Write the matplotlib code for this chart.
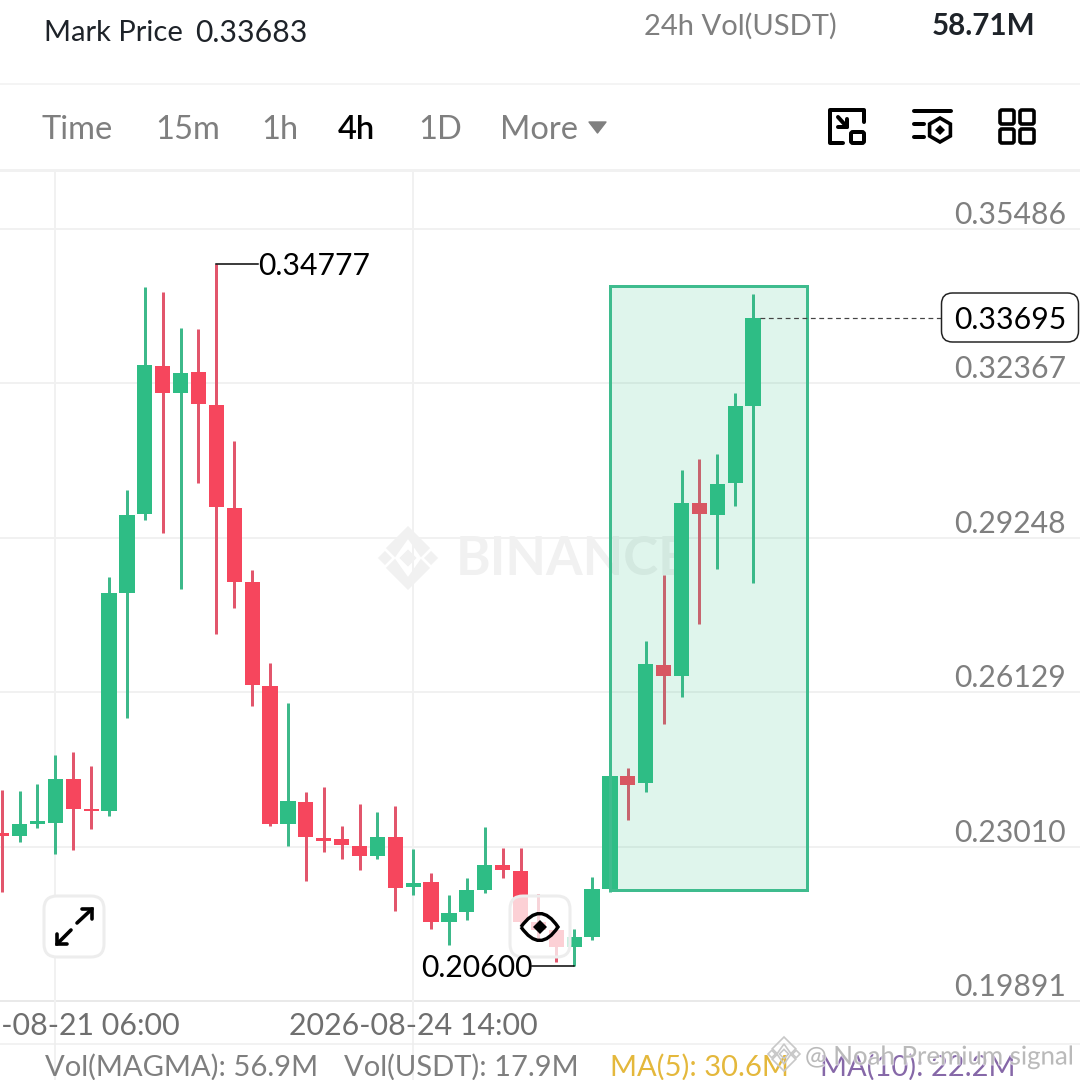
import matplotlib
matplotlib.use("Agg")
import matplotlib.pyplot as plt
import matplotlib.patheffects as pe
from matplotlib.patches import FancyBboxPatch, Rectangle, Polygon, RegularPolygon, PathPatch
from matplotlib.path import Path

plt.rcParams["font.family"] = ["Lato", "DejaVu Sans"]

# candle values (first candle is cut by the left edge)
opens = [0.23275, 0.23230, 0.23472, 0.23493, 0.24381, 0.23775, 0.23729, 0.28139, 0.29728, 0.32718,
         0.32167, 0.32597, 0.31930, 0.29850, 0.28355, 0.26254, 0.23466, 0.23911, 0.23178, 0.23163,
         0.23028, 0.22820, 0.23198, 0.22188, 0.22289, 0.21493, 0.21689, 0.22139, 0.22632, 0.22517,
         0.21487, 0.21325, 0.20988, 0.21190, 0.22153, 0.24436, 0.24295, 0.26678, 0.26462, 0.29951,
         0.29708, 0.30361, 0.31916]
closes = [0.23224, 0.23466, 0.23527, 0.24381, 0.23775, 0.23729, 0.28133, 0.29708, 0.32738, 0.32173,
          0.32583, 0.31950, 0.29870, 0.28361, 0.26274, 0.23460, 0.23925, 0.23198, 0.23129, 0.23036,
          0.22814, 0.23198, 0.22180, 0.22275, 0.21493, 0.21663, 0.22133, 0.22632, 0.22531, 0.21481,
          0.21325, 0.20988, 0.21178, 0.22147, 0.24436, 0.24254, 0.26698, 0.26462, 0.29951, 0.29722,
          0.30340, 0.31910, 0.33695]
highs = [0.24153, 0.24133, 0.24274, 0.24860, 0.24921, 0.24638, 0.28462, 0.30213, 0.34314, 0.34213,
         0.33486, 0.33465, 0.34777, 0.31203, 0.28597, 0.26719, 0.25911, 0.24107, 0.24220, 0.23432,
         0.23864, 0.23715, 0.23830, 0.22955, 0.22483, 0.22032, 0.22370, 0.23406, 0.22988, 0.22976,
         0.22052, 0.21426, 0.21351, 0.22396, 0.24436, 0.24598, 0.27163, 0.28502, 0.30617, 0.30839,
         0.30946, 0.32173, 0.34172]
lows = [0.22093, 0.23109, 0.23386, 0.22866, 0.22941, 0.23371, 0.23634, 0.25608, 0.29607, 0.29345,
        0.28213, 0.30361, 0.27310, 0.27836, 0.25850, 0.23426, 0.23022, 0.22321, 0.22907, 0.22765,
        0.22543, 0.22765, 0.21715, 0.22038, 0.21351, 0.21028, 0.21521, 0.22079, 0.22382, 0.21426,
        0.21123, 0.20679, 0.20600, 0.21123, 0.22099, 0.23547, 0.24113, 0.25486, 0.26032, 0.27506,
        0.28623, 0.29896, 0.28341]

price_ticks = [0.35486, 0.32367, 0.29248, 0.26129, 0.23010, 0.19891]
date_ticks = [3, 23]
date_labels = ["2026-08-21 06:00", "2026-08-24 14:00"]

high_index = 12
low_index = 32
high_value = 0.34777
low_value = 0.20600
last_value = 0.33695
box_start = 34
box_end = 45
box_top = 0.34334
box_bottom = 0.22133

GREEN = "#2EBD85"
RED = "#F6465D"
GREEN_WICK = "#3DB98A"
RED_WICK = "#E2566C"
GRID = "#F1F1F1"
GREY = "#7F7F7F"
PX = 72 / 100  # one pixel in points


def binance_logo(axes, cx, cy, s, **style):
    # logo drawn around its centre, s is half of its height
    t = 0.41 * s
    top = [[0, -s], [0.69 * s, -0.31 * s], [0.69 * s - t * 0.7, -0.31 * s + t * 0.7], [0, -s + t],
           [-0.69 * s + t * 0.7, -0.31 * s + t * 0.7], [-0.69 * s, -0.31 * s]]
    for flip in (1, -1):
        axes.add_patch(Polygon([[cx + x, cy + flip * y] for x, y in top], closed=True, **style))
    for dx, r in [(0, 0.27 * s), (-0.72 * s, 0.22 * s), (0.72 * s, 0.22 * s)]:
        axes.add_patch(Polygon([[cx + dx, cy - r], [cx + dx + r, cy], [cx + dx, cy + r], [cx + dx - r, cy]],
                               closed=True, **style))


fig = plt.figure(figsize=(10.8, 10.8), dpi=100, facecolor="white")

# price chart fills the figure, limits put the gridlines on the same pixels as the app
ax = fig.add_axes([0, 0, 1, 1])
pitch = 17.89
ax.set_xlim(-1.7 / pitch, (1080 - 1.7) / pitch)
per_px = (price_ticks[0] - price_ticks[-1]) / (1001 - 229)
ax.set_ylim(price_ticks[-1] - 79 * per_px, price_ticks[-1] + 1001 * per_px)
ax.axis("off")

# gridlines
for p in price_ticks[:-1]:
    ax.axhline(p, color=GRID, lw=2 * PX, zorder=1)
ax.axhline(price_ticks[-1], color="#E9E9E9", lw=2 * PX, zorder=1)
for i in date_ticks:
    ax.plot([i, i], [ax.get_ylim()[0], price_ticks[0] + 59 * per_px], color=GRID, lw=2 * PX, zorder=1)

# watermark under the candles
ax.text(454 / pitch, 0.2880, "BINANCE", fontsize=38, fontweight="bold", color="#F1F1F1",
        va="center", ha="left", zorder=1.5)

# candles
for i in range(len(opens)):
    up = closes[i] >= opens[i]
    ax.vlines(i, lows[i], highs[i], color=GREEN_WICK if up else RED_WICK, lw=3 * PX, zorder=3)
    ax.bar(i, abs(closes[i] - opens[i]), bottom=min(opens[i], closes[i]), width=0.85,
           color=GREEN if up else RED, zorder=3.5)

# highlighted box lies over the candles
ax.add_patch(Rectangle((box_start, box_bottom), box_end - box_start, box_top - box_bottom,
                       facecolor=GREEN, edgecolor="none", alpha=0.15, zorder=3.8))
ax.add_patch(Rectangle((box_start, box_bottom), box_end - box_start, box_top - box_bottom,
                       facecolor="none", edgecolor="#3FBC8E", lw=3 * PX, zorder=4))

# high and last price labels
ax.plot([high_index, high_index + 42 / pitch], [high_value, high_value], color="black", lw=1.5 * PX, zorder=5)
ax.annotate(f"{high_value:.5f}", xy=(high_index + 42 / pitch, high_value), xytext=(0, -2 * PX),
            textcoords="offset points", fontsize=21.7, color="black", va="center", ha="left", zorder=5)
ax.plot([len(opens) - 1 + 7 / pitch, 941 / pitch], [last_value, last_value], color="#444444",
        lw=1.2 * PX, ls=(0, (4, 3)), zorder=5)

# axis labels
for p in price_ticks:
    ax.annotate(f"{p:.5f}", xy=(1, p), xycoords=("axes fraction", "data"), xytext=(-14 * PX, 14 * PX),
                textcoords="offset points", fontsize=21.7, color=GREY, ha="right", va="center", zorder=5)
for i, label in zip(date_ticks, date_labels):
    ax.annotate(label, xy=(i, price_ticks[-1]), xytext=(0, -25 * PX), textcoords="offset points",
                fontsize=21.9, color="#6F6F6F", ha="center", va="center", annotation_clip=False)

# everything else is app chrome, drawn on a pixel axes
ui = fig.add_axes([0, 0, 1, 1], facecolor="none")
ui.set_xlim(0, 1080)
ui.set_ylim(1080, 0)
ui.axis("off")

ui.plot([0, 1080], [84, 84], color=GRID, lw=1.5 * PX)
ui.plot([0, 1080], [170, 170], color=GRID, lw=3 * PX)
ui.plot([0, 1080], [1044, 1044], color="#EEEEEE", lw=1.5 * PX)

ui.text(44, 33, "Mark Price", fontsize=21, color="#1E2329", va="center")
ui.text(195, 33, "0.33683", fontsize=21.7, color="#1E2329", va="center")
ui.text(644, 26, "24h Vol(USDT)", fontsize=21, color=GREY, va="center")
ui.text(1035, 26, "58.71M", fontsize=21.3, fontweight="bold", color="#1E2329", va="center", ha="right")

tab_names = ["Time", "15m", "1h", "4h", "1D", "More"]
tab_x = [42, 155, 261, 338, 418, 500]
for name, x in zip(tab_names, tab_x):
    ui.text(x, 130, name, fontsize=23.5, color="black" if name == "4h" else GREY,
            fontweight="semibold" if name == "4h" else "normal", va="center")
ui.add_patch(Polygon([[589, 122], [606, 122], [597.5, 133]], closed=True, facecolor=GREY, edgecolor=GREY, lw=1, joinstyle="round"))

# top right icons
icon = dict(color="black", lw=4 * PX, solid_capstyle="round", solid_joinstyle="round")
ui.plot([843, 830, 830, 864, 864], [143, 143, 110, 110, 122], **icon)
ui.add_patch(FancyBboxPatch((851, 132), 13, 11, boxstyle="round,pad=0,rounding_size=2", fc="none", ec="black", lw=4 * PX))
ui.plot([838, 847], [117, 127], **icon)
ui.plot([847, 847, 838], [119, 127, 127], **icon)
ui.plot([914, 951], [111, 111], **icon)
ui.plot([914, 924], [124, 124], **icon)
ui.plot([914, 924], [137, 137], **icon)
ui.add_patch(RegularPolygon((940, 130), 6, radius=12, fc="none", ec="black", lw=3.6 * PX))
ui.add_patch(Polygon([[940, 125], [945, 130], [940, 135], [935, 130]], closed=True, fc="black", ec="none"))
for x in (1000, 1020):
    for y in (110, 129):
        ui.add_patch(FancyBboxPatch((x, y), 14, 14, boxstyle="round,pad=0,rounding_size=2", fc="none", ec="black", lw=3.6 * PX))

# price tag
ui.add_patch(FancyBboxPatch((941.5, 293), 137, 49, boxstyle="round,pad=0,rounding_size=11", fc="white", ec="#222222", lw=1.5 * PX, zorder=6))
ui.text(1066, 320, f"{last_value:.5f}", fontsize=21.7, color="black", ha="right", va="center", zorder=7)

# expand button
ui.add_patch(FancyBboxPatch((44, 896), 60, 61, boxstyle="round,pad=0,rounding_size=13", fc="white", ec="#EDEDED", lw=3 * PX, zorder=6))
arrow = dict(color="black", lw=3.6 * PX, zorder=7, solid_capstyle="round", solid_joinstyle="miter")
ui.plot([77, 92], [923, 909], **arrow)
ui.plot([82, 92, 92], [909, 909, 919], **arrow)
ui.plot([71, 57], [930, 944], **arrow)
ui.plot([57, 57, 67], [934, 944, 944], **arrow)

# eye button fades what is under it
ui.add_patch(FancyBboxPatch((510, 896), 60, 61, boxstyle="round,pad=0,rounding_size=13", fc=(1, 1, 1, 0.75), ec="#EDEDED", lw=3 * PX, zorder=6))
eye = Path([(521, 927), (540, 900), (558, 927), (540, 954), (521, 927)],
           [Path.MOVETO, Path.CURVE3, Path.CURVE3, Path.CURVE3, Path.CURVE3])
ui.add_patch(PathPatch(eye, fc="none", ec="black", lw=3.4 * PX, zorder=7))
ui.add_patch(Polygon([[540, 920], [547, 927], [540, 934], [533, 927]], closed=True, fc="black", ec="none", zorder=7))

# low label stays above the button
ui.plot([low_index, low_index - 42 / pitch], [low_value, low_value], color="black", lw=1.5 * PX, zorder=7,
        transform=ax.transData)
ui.annotate(f"{low_value:.5f}", xy=(low_index - 42 / pitch, low_value), xycoords=ax.transData, xytext=(0, -2 * PX),
            textcoords="offset points", fontsize=21.7, color="black", va="center", ha="right", zorder=7)

# binance logo next to the watermark
binance_logo(ax.figure.add_axes([0, 0, 1, 1], facecolor="none", xlim=(0, 1080), ylim=(1080, 0), zorder=-1, frame_on=False,
                                xticks=[], yticks=[]), 408, 558, 32, fc="#F1F1F1", ec="none")

# volume line
ui.text(45, 1067, "Vol(MAGMA): 56.9M", fontsize=21, color=GREY, va="center")
ui.text(344, 1067, "Vol(USDT): 17.9M", fontsize=21, color=GREY, va="center")
ui.text(610, 1067, "MA(5): 30.6M", fontsize=21, color="#E4B83C", va="center")
ui.text(820, 1067, "MA(10): 22.2M", fontsize=21, color="#8668A8", va="center")

# repost watermark on the bottom right
halo = [pe.withStroke(linewidth=1.5, foreground="white", alpha=0.6)]
ui.text(805, 1057, "@ Noah Premium signal", fontsize=18.6, color="#B5B5B5", alpha=0.9, va="center", path_effects=halo, zorder=8)
binance_logo(ui, 784, 1054, 17, fc="none", ec="#C8C8C8", lw=1.2, zorder=8)

fig.savefig("out.png", dpi=100)
